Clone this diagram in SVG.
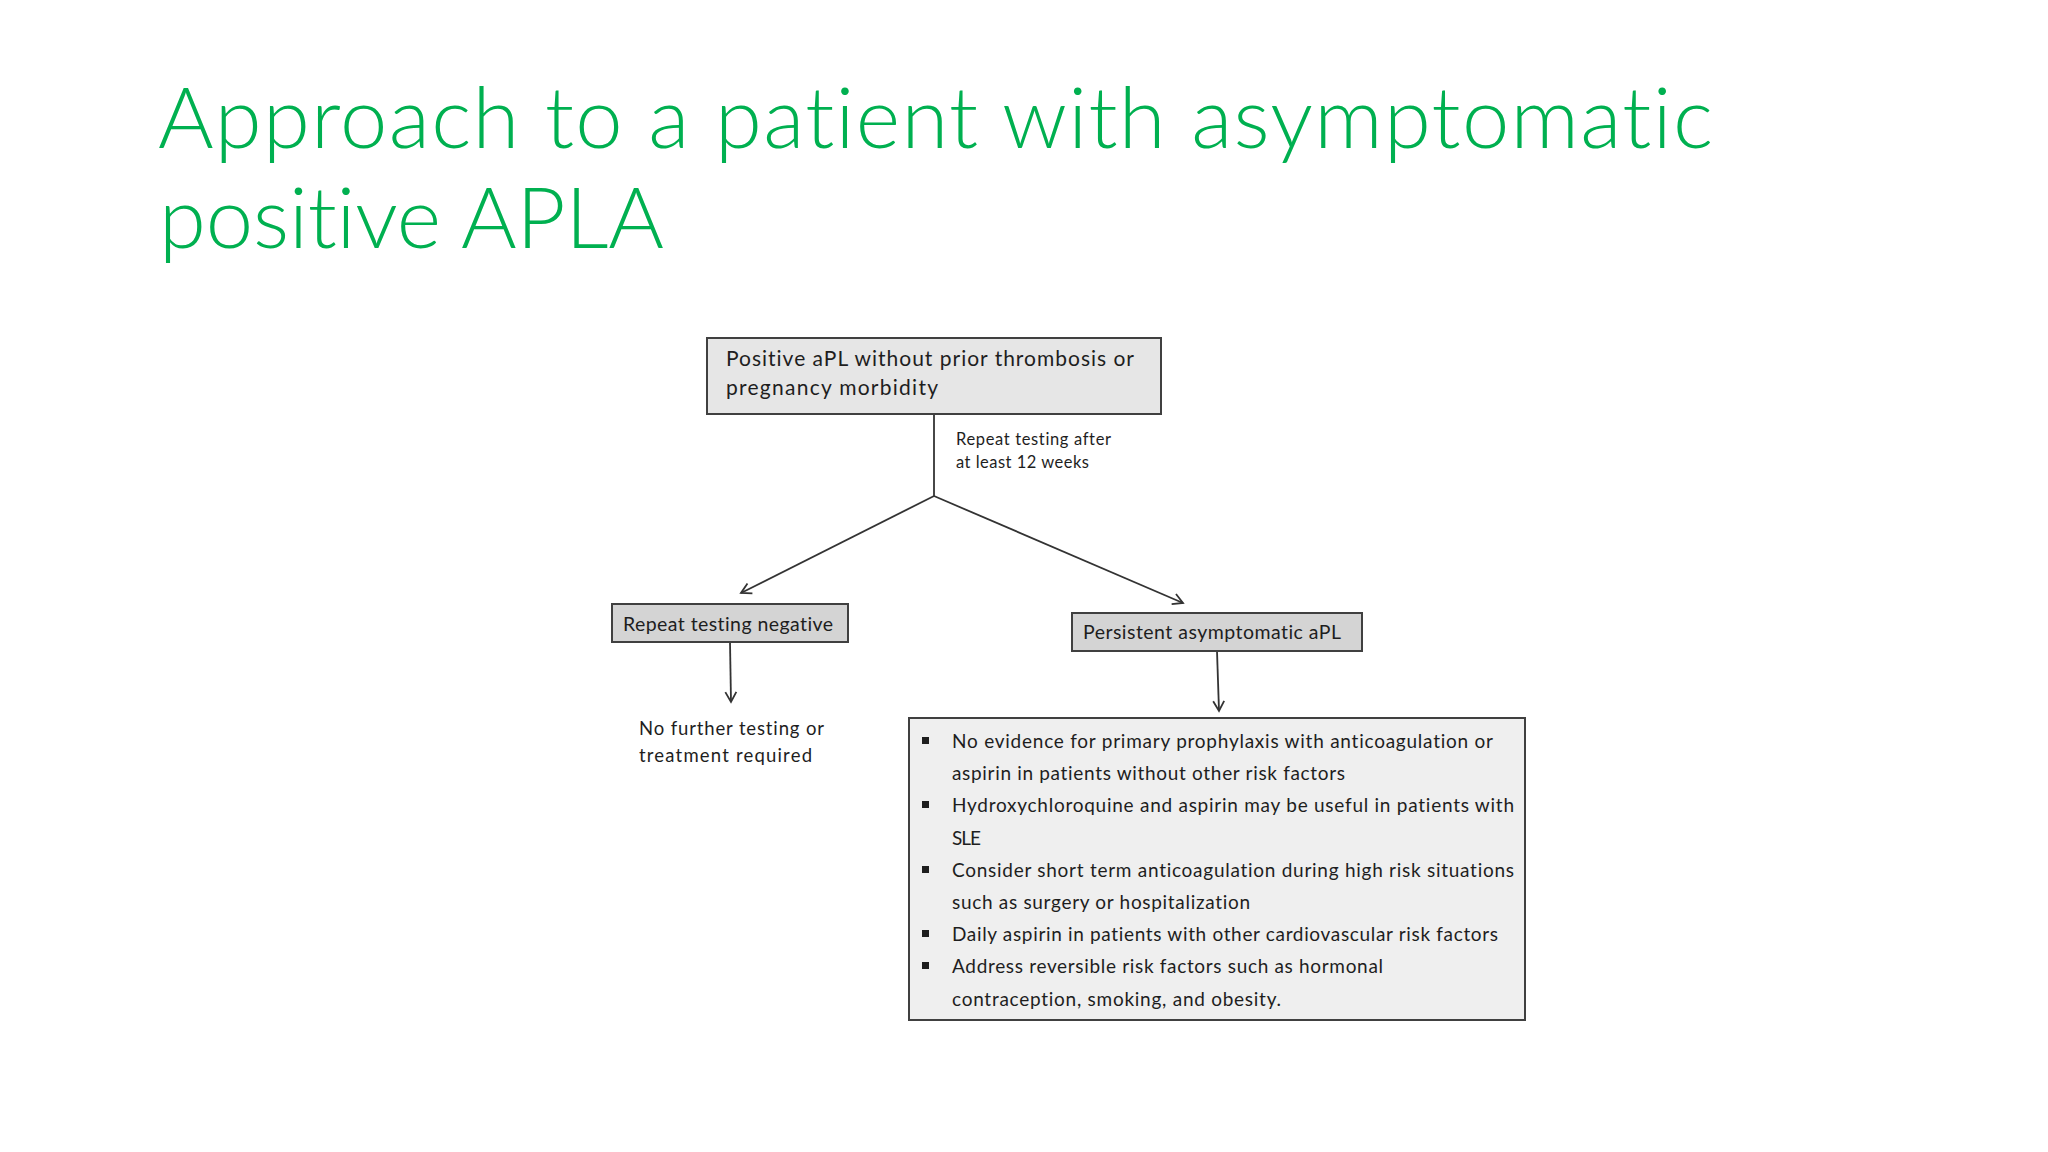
<svg xmlns="http://www.w3.org/2000/svg" width="2048" height="1152" viewBox="0 0 2048 1152">
  <defs>
    <style>
      text { font-variant-ligatures: none; font-feature-settings: "liga" 0, "dlig" 0; }
      .title { font-family: Lato, "Open Sans", sans-serif; font-weight: 300; font-size: 85px; fill: #00b050; }
      .t { font-family: Lato, "Open Sans", sans-serif; fill: #1e1e1e; }
      .box { stroke: #404040; stroke-width: 2; }
      .conn { stroke: #333333; stroke-width: 1.8; fill: none; }
    </style>
    <marker id="arr" markerUnits="userSpaceOnUse" markerWidth="14" markerHeight="14" refX="12" refY="7" orient="auto">
      <path d="M2,1.5 L12,7 L2,12.5" fill="none" stroke="#333333" stroke-width="1.8"/>
    </marker>
  </defs>
  <rect width="2048" height="1152" fill="#ffffff"/>

  <g id="title">
    <text class="title" x="158" y="148" textLength="1555" lengthAdjust="spacing">Approach to a patient with asymptomatic</text>
    <text class="title" x="159" y="248" textLength="505" lengthAdjust="spacing">positive APLA</text>
  </g>

  <g id="connectors">
    <line class="conn" x1="934" y1="414" x2="934" y2="496"/>
    <line class="conn" x1="934" y1="496" x2="741" y2="593" marker-end="url(#arr)"/>
    <line class="conn" x1="934" y1="496" x2="1183" y2="603" marker-end="url(#arr)"/>
    <line class="conn" x1="730" y1="642" x2="731" y2="702" marker-end="url(#arr)"/>
    <line class="conn" x1="1217" y1="651" x2="1219" y2="711" marker-end="url(#arr)"/>
    <g id="edge-label">
      <text class="t" x="956" y="445" font-size="16.5" textLength="155">Repeat testing after</text>
      <text class="t" x="956" y="468" font-size="16.5" textLength="133">at least 12 weeks</text>
    </g>
  </g>

  <g id="node-start">
    <rect class="box" x="707" y="338" width="454" height="76" fill="#e6e6e6"/>
    <text class="t" x="726" y="366" font-size="21" textLength="408">Positive aPL without prior thrombosis or</text>
    <text class="t" x="726" y="395" font-size="21" textLength="212">pregnancy morbidity</text>
  </g>

  <g id="node-negative">
    <rect class="box" x="612" y="604" width="236" height="38" fill="#d4d4d4"/>
    <text class="t" x="623" y="631" font-size="19.5" textLength="210">Repeat testing negative</text>
  </g>

  <g id="node-no-further">
    <text class="t" x="639" y="735" font-size="18.5" textLength="185">No further testing or</text>
    <text class="t" x="639" y="762" font-size="18.5" textLength="173">treatment required</text>
  </g>

  <g id="node-persistent">
    <rect class="box" x="1072" y="613" width="290" height="38" fill="#d4d4d4"/>
    <text class="t" x="1083" y="639" font-size="19.5" textLength="258">Persistent asymptomatic aPL</text>
  </g>

  <g id="node-recommendations">
    <rect class="box" x="909" y="718" width="616" height="302" fill="#efefef"/>
    <g fill="#1e1e1e">
      <rect x="922" y="737" width="7" height="7"/>
      <rect x="922" y="801" width="7" height="7"/>
      <rect x="922" y="866" width="7" height="7"/>
      <rect x="922" y="930" width="7" height="7"/>
      <rect x="922" y="962" width="7" height="7"/>
    </g>
    <text class="t" x="952" y="748" font-size="19" textLength="541">No evidence for primary prophylaxis with anticoagulation or</text>
    <text class="t" x="952" y="780" font-size="19" textLength="393">aspirin in patients without other risk factors</text>
    <text class="t" x="952" y="812" font-size="19" textLength="562">Hydroxychloroquine  and aspirin may be useful in patients with</text>
    <text class="t" x="952" y="845" font-size="19" textLength="29">SLE</text>
    <text class="t" x="952" y="877" font-size="19" textLength="562">Consider short term anticoagulation during high risk situations</text>
    <text class="t" x="952" y="909" font-size="19" textLength="298">such as surgery or hospitalization</text>
    <text class="t" x="952" y="941" font-size="19" textLength="546">Daily aspirin in patients with other cardiovascular risk factors</text>
    <text class="t" x="952" y="973" font-size="19" textLength="431">Address reversible risk factors such as hormonal</text>
    <text class="t" x="952" y="1006" font-size="19" textLength="329">contraception, smoking, and obesity.</text>
  </g>
</svg>
